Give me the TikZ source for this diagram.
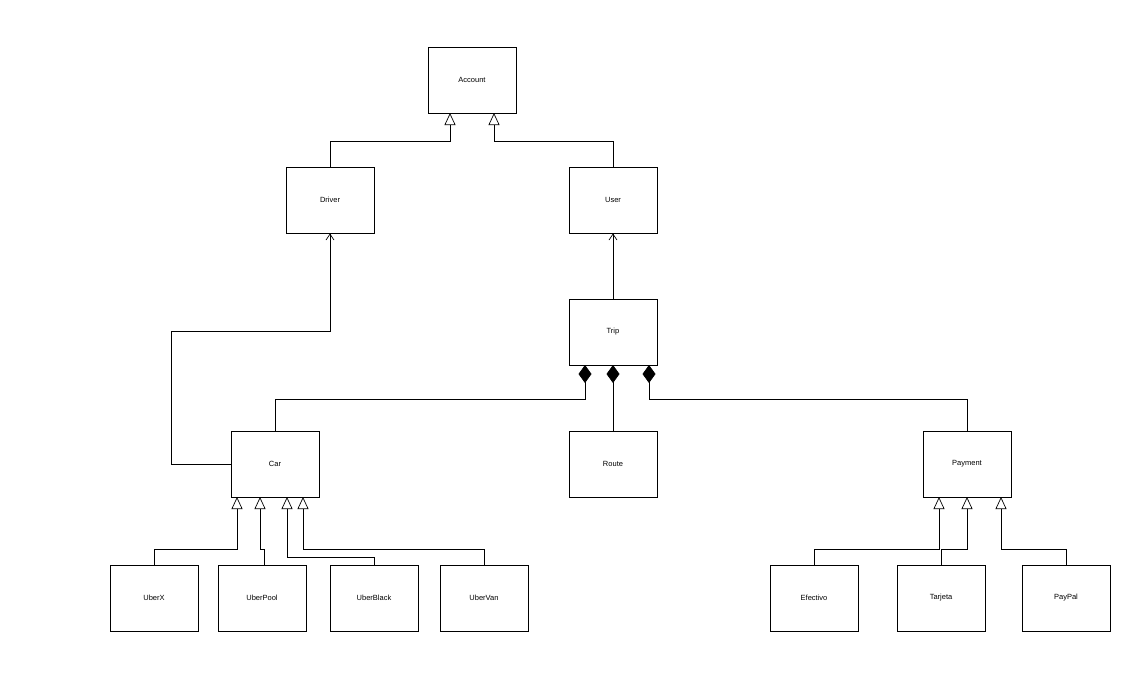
\documentclass[tikz,border=0pt]{standalone}
\usepackage{fontspec}
\setmainfont{Liberation Sans}
\usetikzlibrary{arrows.meta}
\begin{document}
\begin{tikzpicture}[x=1pt,y=-1pt,
  box/.style={draw,line width=0.8pt,minimum width=88pt,minimum height=66pt,font=\fontsize{7.5}{9}\selectfont,inner sep=0},
  inh/.style={draw,line width=0.7pt,-{Triangle[open,width=11pt,length=12pt]}},
  assoc/.style={draw,line width=0.7pt,-{Straight Barb[width=8pt,length=6pt]}},
  comp/.style={draw,line width=0.7pt,{Diamond[width=13pt,length=18pt]}-}]
\useasboundingbox (0,0) rectangle (1130,686);
\fill[white] (0,0) rectangle (1130,686);
\node[box] (acc) at (472,80) {Account};
\node[box] (drv) at (330,200) {Driver};
\node[box] (usr) at (613,200) {User};
\node[box] (trip) at (613,332) {Trip};
\node[box] (car) at (275,464) {Car};
\node[box] (route) at (613,464) {Route};
\node[box] (pay) at (967,464) {Payment};
\node[box] (ux) at (154,598) {UberX};
\node[box] (up) at (262,598) {UberPool};
\node[box] (ub) at (374,598) {UberBlack};
\node[box] (uv) at (484,598) {UberVan};
\node[box] (ef) at (814,598) {Efectivo};
\node[box] (ta) at (941,598) {Tarjeta};
\node[box] (pp) at (1066,598) {PayPal};
\coordinate (a1) at (450,113);
\coordinate (a2) at (494,113);
\path[inh] (drv.north) |- (450,141) -- (a1);
\path[inh] (usr.north) |- (494,141) -- (a2);
\path[assoc] (trip.north) -- (usr.south);
\path[assoc] (car.west) -| (171,331) -| (drv.south);
\path[comp] (585,365) |- (275,399) -- (car.north);
\path[comp] (613,365) -- (route.north);
\path[comp] (649,365) |- (967,399) -- (pay.north);
\path[inh] (ux.north) |- (237,549) -- (237,497);
\path[inh] (264,565) |- (260,549) -- (260,497);
\path[inh] (ub.north) |- (287,557) -- (287,497);
\path[inh] (uv.north) |- (303,549) -- (303,497);
\path[inh] (ef.north) |- (939,549) -- (939,497);
\path[inh] (ta.north) |- (967,549) -- (967,497);
\path[inh] (pp.north) |- (1001,549) -- (1001,497);
\end{tikzpicture}
\end{document}
